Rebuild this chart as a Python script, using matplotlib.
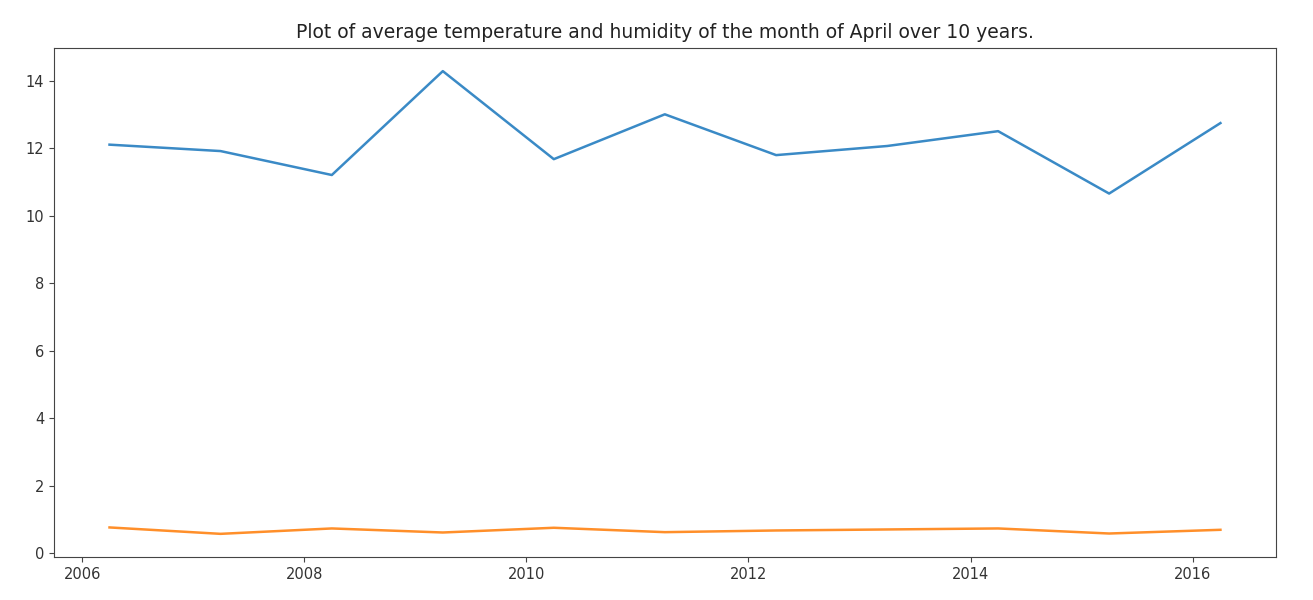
#!/usr/bin/env python3
"""Average April temperature and humidity over 10 years."""
from datetime import date

import matplotlib
matplotlib.use("Agg")
import matplotlib.pyplot as plt

YEARS = list(range(2006, 2017))
TEMPERATURE = [12.11, 11.92, 11.21, 14.29, 11.68, 13.01,
               11.80, 12.07, 12.51, 10.66, 12.75]
HUMIDITY = [0.76, 0.57, 0.73, 0.61, 0.75, 0.62,
            0.67, 0.70, 0.73, 0.58, 0.69]


def main() -> None:
    dates = [date(y, 4, 1) for y in YEARS]

    fig = plt.figure(figsize=(13.13, 6.0), dpi=100)
    ax = fig.add_axes([0.0411, 0.0717, 0.9307, 0.8483])
    ax.plot(dates, TEMPERATURE, color="#3a8ac6", lw=1.8)
    ax.plot(dates, HUMIDITY, color="#ff8f2a", lw=1.8)
    ax.set_title("Plot of average temperature and humidity of the month "
                 "of April over 10 years.", fontsize=13.5, color="#222222",
                 pad=7)
    ax.tick_params(labelsize=10.5, labelcolor="#333333", color="#444444")
    for sp in ax.spines.values():
        sp.set_color("#444444")
    fig.savefig("out.png", dpi=100)
    plt.close(fig)


if __name__ == "__main__":
    main()
